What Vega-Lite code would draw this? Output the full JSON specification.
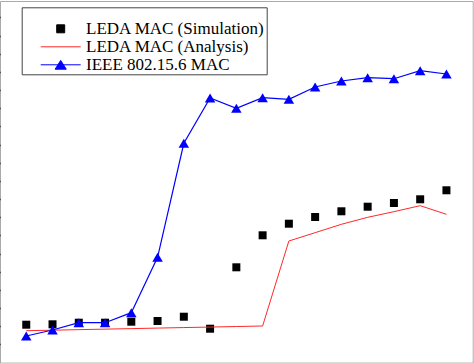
{
  "$schema": "https://vega.github.io/schema/vega-lite/v6.json",
  "width": 472.7,
  "height": 361.6,
  "autosize": {"type": "none"},
  "padding": {"left": 0, "top": 1, "right": 1.3, "bottom": 0.4},
  "background": "white",
  "config": {
    "view": {"stroke": "#aaaaaa", "strokeWidth": 1},
    "font": "Liberation Serif"
  },
  "datasets": {
    "table": [
      {"x": 1, "y": 1.043, "series": "LEDA MAC (Simulation)"},
      {"x": 2, "y": 1.054, "series": "LEDA MAC (Simulation)"},
      {"x": 3, "y": 1.098, "series": "LEDA MAC (Simulation)"},
      {"x": 4, "y": 1.098, "series": "LEDA MAC (Simulation)"},
      {"x": 5, "y": 1.126, "series": "LEDA MAC (Simulation)"},
      {"x": 6, "y": 1.145, "series": "LEDA MAC (Simulation)"},
      {"x": 7, "y": 1.263, "series": "LEDA MAC (Simulation)"},
      {"x": 8, "y": 0.933, "series": "LEDA MAC (Simulation)"},
      {"x": 9, "y": 2.623, "series": "LEDA MAC (Simulation)"},
      {"x": 10, "y": 3.504, "series": "LEDA MAC (Simulation)"},
      {"x": 11, "y": 3.823, "series": "LEDA MAC (Simulation)"},
      {"x": 12, "y": 4.008, "series": "LEDA MAC (Simulation)"},
      {"x": 13, "y": 4.165, "series": "LEDA MAC (Simulation)"},
      {"x": 14, "y": 4.291, "series": "LEDA MAC (Simulation)"},
      {"x": 15, "y": 4.393, "series": "LEDA MAC (Simulation)"},
      {"x": 16, "y": 4.495, "series": "LEDA MAC (Simulation)"},
      {"x": 17, "y": 4.743, "series": "LEDA MAC (Simulation)"},
      {"x": 1, "y": 0.878, "series": "LEDA MAC (Analysis)"},
      {"x": 2, "y": 0.892, "series": "LEDA MAC (Analysis)"},
      {"x": 3, "y": 0.907, "series": "LEDA MAC (Analysis)"},
      {"x": 4, "y": 0.921, "series": "LEDA MAC (Analysis)"},
      {"x": 5, "y": 0.935, "series": "LEDA MAC (Analysis)"},
      {"x": 6, "y": 0.95, "series": "LEDA MAC (Analysis)"},
      {"x": 7, "y": 0.964, "series": "LEDA MAC (Analysis)"},
      {"x": 8, "y": 0.978, "series": "LEDA MAC (Analysis)"},
      {"x": 9, "y": 0.993, "series": "LEDA MAC (Analysis)"},
      {"x": 10, "y": 1.007, "series": "LEDA MAC (Analysis)"},
      {"x": 11, "y": 3.347, "series": "LEDA MAC (Analysis)"},
      {"x": 12, "y": 3.576, "series": "LEDA MAC (Analysis)"},
      {"x": 13, "y": 3.807, "series": "LEDA MAC (Analysis)"},
      {"x": 14, "y": 3.999, "series": "LEDA MAC (Analysis)"},
      {"x": 15, "y": 4.154, "series": "LEDA MAC (Analysis)"},
      {"x": 16, "y": 4.319, "series": "LEDA MAC (Analysis)"},
      {"x": 17, "y": 4.082, "series": "LEDA MAC (Analysis)"},
      {"x": 1, "y": 0.732, "series": "IEEE 802.15.6 MAC"},
      {"x": 2, "y": 0.897, "series": "IEEE 802.15.6 MAC"},
      {"x": 3, "y": 1.098, "series": "IEEE 802.15.6 MAC"},
      {"x": 4, "y": 1.098, "series": "IEEE 802.15.6 MAC"},
      {"x": 5, "y": 1.374, "series": "IEEE 802.15.6 MAC"},
      {"x": 6, "y": 2.898, "series": "IEEE 802.15.6 MAC"},
      {"x": 7, "y": 6.036, "series": "IEEE 802.15.6 MAC"},
      {"x": 8, "y": 7.283, "series": "IEEE 802.15.6 MAC"},
      {"x": 9, "y": 7.0, "series": "IEEE 802.15.6 MAC"},
      {"x": 10, "y": 7.291, "series": "IEEE 802.15.6 MAC"},
      {"x": 11, "y": 7.247, "series": "IEEE 802.15.6 MAC"},
      {"x": 12, "y": 7.586, "series": "IEEE 802.15.6 MAC"},
      {"x": 13, "y": 7.751, "series": "IEEE 802.15.6 MAC"},
      {"x": 14, "y": 7.842, "series": "IEEE 802.15.6 MAC"},
      {"x": 15, "y": 7.814, "series": "IEEE 802.15.6 MAC"},
      {"x": 16, "y": 8.035, "series": "IEEE 802.15.6 MAC"},
      {"x": 17, "y": 7.944, "series": "IEEE 802.15.6 MAC"}
    ]
  },
  "data": {"name": "table"},
  "encoding": {
    "x": {
      "field": "x", "type": "quantitative",
      "scale": {"domain": [0, 18], "nice": false, "zero": false},
      "axis": {
        "values": [1, 2, 3, 4, 5, 6, 7, 8, 9, 10, 11, 12, 13, 14, 15, 16, 17],
        "labels": false, "domain": false, "grid": false, "title": null,
        "tickColor": "black", "tickWidth": 1.5, "tickSize": 7,
        "encode": {"ticks": {"update": {"y2": {"signal": "datum.value % 2 === 1 ? -7.5 : -4.5"}}}}
      }
    },
    "y": {
      "field": "y", "type": "quantitative",
      "scale": {"domain": [0, 9.953], "nice": false, "zero": false},
      "axis": {
        "values": [0.5, 1, 1.5, 2, 2.5, 3, 3.5, 4, 4.5, 5, 5.5, 6, 6.5, 7, 7.5, 8, 8.5, 9, 9.5],
        "labels": false, "domain": false, "grid": false, "title": null,
        "tickColor": "black", "tickWidth": 1.5, "tickSize": 7,
        "encode": {"ticks": {"update": {"x2": {"signal": "datum.value % 1 === 0 ? 7 : 4"}}}}
      }
    },
    "color": {
      "field": "series", "type": "nominal",
      "scale": {
        "domain": ["LEDA MAC (Simulation)", "LEDA MAC (Analysis)", "IEEE 802.15.6 MAC"],
        "range": ["#000000", "#ff2828", "#0000ff"]
      },
      "legend": {
        "orient": "none", "legendX": 21.7, "legendY": 6.3,
        "title": " ", "titleFontSize": 1, "titlePadding": 10.5, "titleOrient": "top",
        "direction": "vertical",
        "labelFont": "Liberation Serif", "labelFontSize": 17, "labelColor": "black",
        "labelOffset": 16.8, "labelLimit": 400,
        "labelExpr": "datum.label + '  '",
        "symbolSize": 256, "symbolStrokeWidth": 1, "symbolOffset": 29,
        "padding": 1.5, "rowPadding": 0,
        "strokeColor": "#444444", "fillColor": "white", "cornerRadius": 0,
        "encode": {
          "symbols": {
            "update": {
              "shape": {"signal": "datum.value === 'LEDA MAC (Simulation)' ? 'M-0.5,-0.5L0.5,-0.5L0.5,0.5L-0.5,0.5Z' : datum.value === 'LEDA MAC (Analysis)' ? 'M-2.5,0L2.5,0' : 'M-2.5,0L2.5,0M-0.7,0.55L0.7,0.55L0,-0.55Z'"},
              "fill": {"scale": "color", "field": "value"},
              "stroke": {"scale": "color", "field": "value"},
              "strokeWidth": {"value": 1},
              "opacity": {"value": 1}
            }
          }
        }
      }
    }
  },
  "layer": [
    {
      "transform": [{"filter": "datum.series === 'LEDA MAC (Simulation)'"}],
      "mark": {"type": "point", "shape": "square", "filled": true, "size": 64, "opacity": 1}
    },
    {
      "transform": [{"filter": "datum.series === 'LEDA MAC (Analysis)'"}],
      "mark": {"type": "line", "strokeWidth": 1}
    },
    {
      "transform": [{"filter": "datum.series === 'IEEE 802.15.6 MAC'"}],
      "mark": {"type": "line", "strokeWidth": 1.2}
    },
    {
      "transform": [{"filter": "datum.series === 'IEEE 802.15.6 MAC'"}],
      "mark": {"type": "point", "shape": "triangle-up", "filled": true, "size": 110, "opacity": 1}
    }
  ]
}
